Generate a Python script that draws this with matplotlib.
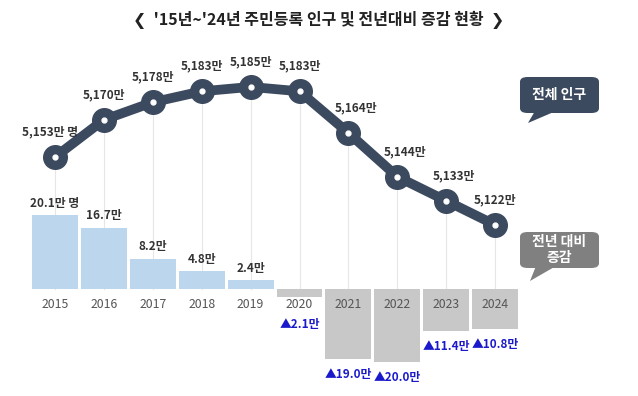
import matplotlib
matplotlib.use("Agg")
import matplotlib.pyplot as plt
from matplotlib.patches import FancyBboxPatch, Polygon
import numpy as np

plt.rcParams['font.family'] = ['Noto Sans CJK KR', 'DejaVu Sans']

years = [2015, 2016, 2017, 2018, 2019, 2020, 2021, 2022, 2023, 2024]
population = [5153, 5170, 5178, 5183, 5185, 5183, 5164, 5144, 5133, 5122]   # 만 명
change = [20.1, 16.7, 8.2, 4.8, 2.4, -2.1, -19.0, -20.0, -11.4, -10.8]       # 만 명
pop_labels = ['5,153만 명', '5,170만', '5,178만', '5,183만', '5,185만',
              '5,183만', '5,164만', '5,144만', '5,133만', '5,122만']
title = "❮  '15년~'24년 주민등록 인구 및 전년대비 증감 현황  ❯"
legend_total = '전체 인구'
legend_change = '전년 대비\n증감'

W, H, DPI = 638, 396, 100
fig = plt.figure(figsize=(W / DPI, H / DPI), dpi=DPI)
fig.patch.set_facecolor('white')

# pixel helpers for layout
x0_px, dx_px = 55, 48.9
xlim = (years[0] - x0_px / dx_px, years[0] + (W - x0_px) / dx_px)
base_px, bar_scale = 107, 3.66         # baseline from bottom, px per unit
line_ref_px, line_scale = 239, 2.19

ax = fig.add_axes([0, 0, 1, 1])
ax.set_xlim(*xlim)
ax.set_ylim(-base_px / bar_scale, (H - base_px) / bar_scale)
ax.axis('off')

ax2 = ax.twinx()
ax2.set_xlim(*xlim)
ax2.set_ylim(population[0] - line_ref_px / line_scale,
             population[0] + (H - line_ref_px) / line_scale)
ax2.axis('off')

blue = '#bcd6ee'
gray = '#c8c8c8'
navy = '#3c4a5f'
colors = [blue if v >= 0 else gray for v in change]

# vertical thin guide lines from markers to baseline
for yr, p in zip(years, population):
    ytop_bar = (p - ax2.get_ylim()[0]) / (ax2.get_ylim()[1] - ax2.get_ylim()[0])
    ax.axvline(yr, ymin=base_px / H, ymax=ytop_bar, color='#e6e6e6', lw=0.8, zorder=0)

ax.bar(years, change, width=0.94, color=colors, zorder=2)

# year labels
for yr in years:
    ax.annotate(str(yr), (yr, 0), xytext=(0, -16), textcoords='offset pixels',
                ha='center', va='center', fontsize=8.8, color='#555555', zorder=3)

# change labels
for i, (yr, v) in enumerate(zip(years, change)):
    if v >= 0:
        txt = f'{v:.1f}만' + (' 명' if i == 0 else '')
        ax.annotate(txt, (yr, v), xytext=(0, 12), textcoords='offset pixels',
                    ha='center', va='center', fontsize=8.5, fontweight='bold',
                    color='#333333', zorder=3)
    else:
        y = min(v - 4.3, -9.8)
        ax.text(yr, y, f'▲{abs(v):.1f}만', ha='center', va='center',
                fontsize=8.5, fontweight='bold', color='#1a1acc', zorder=3)

# population line
ax2.plot(years, population, color=navy, lw=7, zorder=4, solid_capstyle='round')
ax2.plot(years, population, 'o', ms=17, color=navy, zorder=5)
ax2.plot(years, population, 'o', ms=3.5, color='white', zorder=6)
for i, (yr, p, lab) in enumerate(zip(years, population, pop_labels)):
    dxo = 8 if 6 <= i <= 8 else (-5 if i == 0 else 0)
    ax2.annotate(lab, (yr, p), xytext=(dxo, 25), textcoords='offset pixels',
                 ha='center', va='center', fontsize=8.5, fontweight='bold',
                 color='#333333', zorder=7)

# callouts in figure pixel coordinates (top-left origin converted)
def callout(x1, y1, x2, y2, tip, base, color, text):
    to = lambda x, y: (x / W, 1 - y / H)
    bx, by = to(x1, y2)
    bw, bh = (x2 - x1) / W, (y2 - y1) / H
    box = FancyBboxPatch((bx, by), bw, bh, boxstyle='round,pad=0,rounding_size=0.012',
                         transform=fig.transFigure, fc=color, ec='none', zorder=10)
    fig.add_artist(box)
    tri = Polygon([to(base[0], y2 - 2), to(base[1], y2 - 2), to(*tip)], closed=True,
                  transform=fig.transFigure, fc=color, ec='none', zorder=10)
    fig.add_artist(tri)
    fig.text((x1 + x2) / 2 / W, 1 - (y1 + y2) / 2 / H, text, ha='center', va='center',
             color='white', fontsize=10, fontweight='bold', zorder=11, linespacing=1.2)

callout(520, 77, 599, 113, (528, 123), (535, 556), navy, legend_total)
callout(520, 232, 599, 268, (530, 281), (536, 556), '#808080', legend_change)

fig.text(0.5, 1 - 20 / H, title, ha='center', va='center', fontsize=11.5,
         fontweight='bold', color='#222222')

fig.savefig('out.png', dpi=DPI, facecolor='white')
